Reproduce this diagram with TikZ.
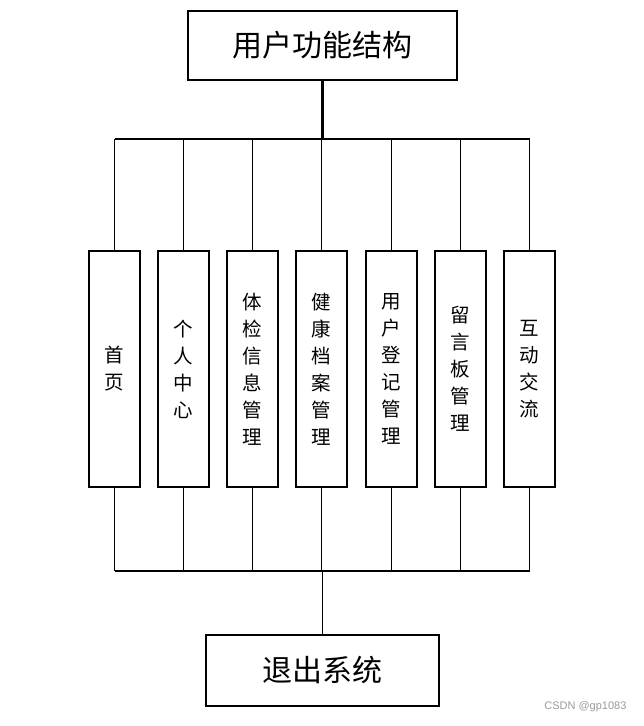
\documentclass[tikz,border=0pt]{standalone}
\usepackage{fontspec}
\newfontfamily\cjk{Noto Sans CJK SC}
\newfontfamily\wmfont{Liberation Sans}
\usepackage{xcolor}
\definecolor{ink}{HTML}{000000}
\definecolor{wm}{HTML}{9A9A9A}
\usepackage{tikz}

\tikzset{
  headbox/.style={draw=ink, line width=1.5pt, fill=white, font=\cjk\fontsize{30}{34}\selectfont},
  modbox/.style={draw=ink, line width=1.5pt, fill=white, minimum width=51pt, minimum height=236pt,
                 inner sep=0pt, align=center, font=\cjk\fontsize{19.5}{27}\selectfont},
  wire/.style={ink, line width=1.6pt}
}

\begin{document}
\begin{tikzpicture}[x=1pt,y=-1pt]
  \useasboundingbox (0,0) rectangle (644,726);
  % title and exit
  \node[headbox, minimum width=269pt, minimum height=69pt] (top) at (322.5,45.5) {用户功能结构};
  \node[headbox, minimum width=233pt, minimum height=71pt] (exit) at (322.5,670.5) {退出系统};
  % seven modules
  \foreach \x/\n/\t in {114.5/1/{首\\页},183.5/2/{个\\人\\中\\心},252.5/3/{体\\检\\信\\息\\管\\理},
                        321.5/4/{健\\康\\档\\案\\管\\理},391.5/5/{用\\户\\登\\记\\管\\理},
                        460.5/6/{留\\言\\板\\管\\理},529.5/7/{互\\动\\交\\流}}{
    \node[modbox] (m\n) at (\x,369) {\t};
  }
  % buses
  \coordinate (upbus) at (322,139);
  \coordinate (lowbus) at (322,571);
  \draw[ink, line width=2.4pt] (top.south) -- (top.south |- upbus);
  \draw[wire] (m1.north |- upbus) -- (m7.north |- upbus);
  \draw[wire] (m1.south |- lowbus) -- (m7.south |- lowbus);
  \draw[wire] (exit.north |- lowbus) -- (exit.north);
  \foreach \n in {1,...,7}{
    \draw[wire] (m\n.north) -- (m\n.north |- upbus);
    \draw[wire] (m\n.south) -- (m\n.south |- lowbus);
  }
  % watermark
  \node[wm, font=\wmfont\fontsize{11}{12}\selectfont, anchor=east] (mark) at (630,707) {CSDN @gp1083};
\end{tikzpicture}
\end{document}
